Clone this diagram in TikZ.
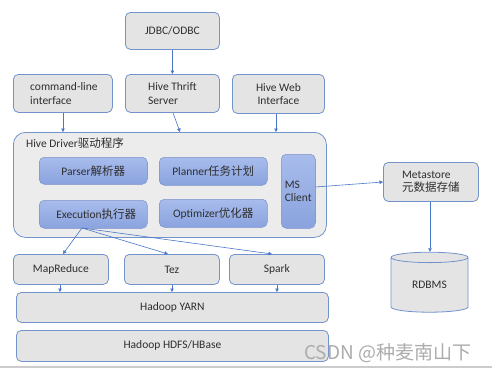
\documentclass[tikz,border=0pt]{standalone}
\usepackage{fontspec}
\setmainfont{Carlito}
\newfontfamily\cjk{Noto Sans CJK SC}
\usetikzlibrary{arrows.meta,shapes.geometric}
\definecolor{bordblue}{HTML}{7393CC}
\definecolor{boxgray}{HTML}{E4E4E4}
\definecolor{drvgray}{HTML}{ECECEC}
\definecolor{arrblue}{HTML}{4A78C8}
\definecolor{innertop}{HTML}{A8BCEC}
\definecolor{innerbot}{HTML}{8AA3DE}
\definecolor{txt}{HTML}{2E2E2E}
\tikzset{
  x=1pt, y=-1pt,
  every node/.style={font=\fontsize{11.5}{13.5}\selectfont, text=txt},
  graybox/.style={draw=bordblue, line width=0.8pt, fill=boxgray, rounded corners=5pt, inner sep=0pt, anchor=north west},
  innerbox/.style={draw=innerbot!90!black, line width=0.5pt, top color=innertop, bottom color=innerbot, rounded corners=5pt, inner sep=0pt, anchor=north west},
  conn/.style={draw=arrblue, line width=0.6pt, -{Triangle[length=3.5pt,width=3.5pt]}},
}
\begin{document}
\begin{tikzpicture}
\useasboundingbox (0,0) rectangle (492,375);
\fill[white] (0,0) rectangle (492,375);
% top boxes
\node[graybox, minimum width=94, minimum height=37] (jdbc) at (125,12) {JDBC/ODBC};
\node[graybox, minimum width=99, minimum height=38, align=left] (cli) at (13,74) {\hspace*{2pt}command-line\\\hspace*{2pt}interface};
\node[graybox, minimum width=94, minimum height=38, align=left] (thrift) at (125,74) {Hive Thrift\\Server};
\node[graybox, minimum width=92, minimum height=39, align=center] (web) at (232,74) {Hive Web\\Interface};
% driver
\node[draw=bordblue, line width=0.8pt, fill=drvgray, rounded corners=12pt, inner sep=0pt, anchor=north west, minimum width=313, minimum height=105] (driver) at (13,132) {};
\node[anchor=west, inner sep=0pt] (drvtitle) at (26,143) {Hive Driver{\cjk 驱动程序}};
\node[innerbox, minimum width=108, minimum height=27] (parser) at (39,157) {Parser{\cjk 解析器}};
\node[innerbox, minimum width=108, minimum height=28] (planner) at (159,157) {Planner{\cjk 任务计划}};
\node[innerbox, minimum width=108, minimum height=28] (exec) at (39,200) {\hspace*{6pt}Execution{\cjk 执行器}};
\node[innerbox, minimum width=34, minimum height=74, align=left] (ms) at (281,154) {MS\\Client};
\node[innerbox, minimum width=108, minimum height=28] (optim) at (159,199) {Optimizer{\cjk 优化器}};
% metastore
\node[graybox, minimum width=95, minimum height=39, align=left] (meta) at (383,162) {Metastore\\{\cjk 元数据存储}};
\node[cylinder, shape border rotate=90, aspect=0.3, draw=bordblue, line width=0.8pt, fill=boxgray, minimum width=77, minimum height=60, inner sep=0pt] (rdbms) at (429.5,285) {RDBMS};
% engines
\node[graybox, minimum width=95, minimum height=30] (mr) at (13,254) {MapReduce};
\node[graybox, minimum width=95, minimum height=30] (tez) at (124,254) {Tez};
\node[graybox, minimum width=95, minimum height=30] (spark) at (229,254) {Spark};
\node[graybox, minimum width=312, minimum height=30] (yarn) at (16,292) {Hadoop YARN};
\node[graybox, minimum width=312, minimum height=31] (hdfs) at (16,330) {Hadoop HDFS/HBase};
% connectors
\draw[conn] (jdbc.south) -- (thrift.north);
\draw[conn] (cli.south -| 63,0) -- (driver.north -| 63,0);
\draw[conn] (thrift.south -| 173,0) -- (driver.north -| 180,0);
\draw[conn] (web.south -| 276,0) -- (driver.north -| 276,0);
\draw[conn] (ms.east |- 0,187) -- (meta.west |- 0,182);
\draw[conn] (meta.south -| 430,0) -- (rdbms.north -| 430,0);
\coordinate (exo) at (82,228);
\draw[conn] (exo) -- (mr.north -| 63,0);
\draw[conn] (exo) -- (tez.north -| 168,0);
\draw[conn] (exo) -- (spark.north -| 272,0);
\draw[conn] (mr.south -| 60,0) -- (yarn.north -| 60,0);
\draw[conn] (tez.south -| 172,0) -- (yarn.north -| 172,0);
\draw[conn] (spark.south -| 277,0) -- (yarn.north -| 277,0);
% bottom line and watermark
\draw[line width=1.5pt, color=gray!40] (0,367) -- (492,367);
\node[anchor=west, inner sep=0pt, font=\cjk\fontsize{19}{20}\selectfont, text=gray!65] (wm) at (304,353) {CSDN @种麦南山下};
\end{tikzpicture}
\end{document}
